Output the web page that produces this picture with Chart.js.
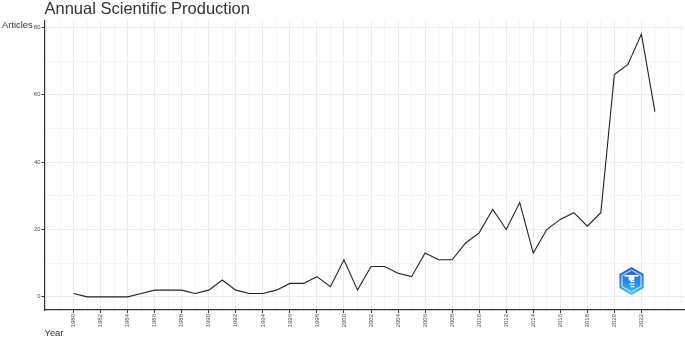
<!DOCTYPE html>
<html>
<head>
<meta charset="utf-8">
<script src="https://cdn.jsdelivr.net/npm/chart.js@4.4.0/dist/chart.umd.min.js"></script>
<style>
  html, body { margin: 0; padding: 0; background: #ffffff; }
  #wrap { width: 685px; height: 338px; position: relative; }
</style>
</head>
<body>
<div id="wrap"><canvas id="c" width="685" height="338"></canvas></div>
<script>
const years = [1980,1981,1982,1983,1984,1985,1986,1987,1988,1989,1990,1991,1992,1993,1994,1995,1996,1997,1998,1999,2000,2001,2002,2003,2004,2005,2006,2007,2008,2009,2010,2011,2012,2013,2014,2015,2016,2017,2018,2019,2020,2021,2022,2023];
const articles = [1,0,0,0,0,1,2,2,2,1,2,5,2,1,1,2,4,4,6,3,11,2,9,9,7,6,13,11,11,16,19,26,20,28,13,20,23,25,21,25,66,69,78,55];
const xTickLabels = [1980,1982,1984,1986,1988,1990,1992,1994,1996,1998,2000,2002,2004,2006,2008,2010,2012,2014,2016,2018,2020,2022];
const yTickLabels = [0,20,40,60,80];
const yMinorTicks = [10,30,50,70];
const titleText = "Annual Scientific Production";
const xTitle = "Year";
const yTitle = "Articles";

const xMin = years[0] - 0.05 * (years[years.length-1] - years[0]);
const xMax = years[years.length-1] + 0.05 * (years[years.length-1] - years[0]);
const yMax0 = Math.max(...articles), yMin0 = Math.min(...articles);
const yMin = yMin0 - 0.05 * (yMax0 - yMin0);
const yMax = yMax0 + 0.05 * (yMax0 - yMin0);

const FONT = "'Liberation Sans', Arial, sans-serif";

const textPlugin = {
  id: 'texts',
  afterDraw(chart) {
    const ctx = chart.ctx, a = chart.chartArea;
    ctx.save();
    ctx.fillStyle = '#333333';
    ctx.textBaseline = 'alphabetic';
    ctx.textAlign = 'left';
    ctx.font = "16.5px " + FONT;
    ctx.fillText(titleText, a.left, 14);
    ctx.font = "9.4px " + FONT;
    ctx.fillText(yTitle, 2, 28);
    ctx.fillText(xTitle, a.left, 336);
    ctx.restore();
  }
};

const logoPlugin = {
  id: 'logo',
  afterDatasetsDraw(chart) {
    const ctx = chart.ctx, a = chart.chartArea;
    const cx = a.right - 52.5, cy = a.bottom - 29, r = 14;
    const hex = (rr) => {
      ctx.beginPath();
      for (let i = 0; i < 6; i++) {
        const ang = Math.PI / 180 * (60 * i - 90);
        const px = cx + rr * Math.cos(ang), py = cy + rr * Math.sin(ang);
        if (i === 0) ctx.moveTo(px, py); else ctx.lineTo(px, py);
      }
      ctx.closePath();
    };
    ctx.save();
    const g = ctx.createLinearGradient(0, cy - r, 0, cy + r);
    g.addColorStop(0, '#2f5ec6');
    g.addColorStop(0.5, '#2b86e0');
    g.addColorStop(1, '#34c6f7');
    hex(r); ctx.fillStyle = g; ctx.fill();
    hex(r - 3); ctx.strokeStyle = 'rgba(255,255,255,0.85)'; ctx.lineWidth = 1; ctx.stroke();
    ctx.fillStyle = '#ffffff';
    ctx.fillRect(cx - 7, cy - 6, 14, 1.5);
    ctx.beginPath(); ctx.arc(cx, cy - 3, 3, 0, Math.PI * 2); ctx.fill();
    ctx.fillRect(cx - 1, cy, 4, 1.2);
    ctx.fillRect(cx - 2, cy + 2.5, 5, 1.2);
    ctx.fillRect(cx - 1, cy + 5, 4, 1.2);
    ctx.restore();
  }
};

new Chart(document.getElementById('c'), {
  type: 'line',
  data: {
    datasets: [{
      data: years.map((y, i) => ({ x: y, y: articles[i] })),
      borderColor: '#222222',
      borderWidth: 1.1,
      pointRadius: 0,
      fill: false,
      tension: 0
    }]
  },
  options: {
    responsive: false,
    devicePixelRatio: 1,
    animation: false,
    layout: { padding: { top: 21, right: 1, left: 0, bottom: 0 } },
    plugins: { legend: { display: false }, tooltip: { enabled: false }, title: { display: false } },
    scales: {
      x: {
        type: 'linear',
        min: xMin, max: xMax,
        afterBuildTicks(scale) {
          const t = [];
          for (let v = Math.ceil(xMin); v <= Math.floor(xMax); v++) t.push({ value: v });
          scale.ticks = t;
        },
        afterFit(scale) { scale.height = 28; scale.paddingLeft = 0; scale.paddingRight = 0; },
        border: { display: true, color: '#333333', width: 1.2 },
        grid: {
          color: (c) => (c.tick && xTickLabels.includes(c.tick.value)) ? '#ebebeb' : '#f4f4f4',
          tickColor: (c) => (c.tick && xTickLabels.includes(c.tick.value)) ? '#333333' : 'rgba(0,0,0,0)',
          tickLength: 3,
          lineWidth: 1
        },
        ticks: {
          autoSkip: false,
          maxRotation: 90, minRotation: 90,
          padding: 1,
          color: '#4d4d4d',
          font: { family: FONT, size: 6 },
          callback: (v) => xTickLabels.includes(v) ? String(v) : ''
        }
      },
      y: {
        type: 'linear',
        min: yMin, max: yMax,
        afterBuildTicks(scale) {
          scale.ticks = yTickLabels.concat(yMinorTicks).sort((a, b) => a - b).map(v => ({ value: v }));
        },
        afterFit(scale) { scale.width = 44.5; scale.paddingTop = 0; scale.paddingBottom = 0; },
        border: { display: true, color: '#333333', width: 1.2 },
        grid: {
          color: (c) => (c.tick && yTickLabels.includes(c.tick.value)) ? '#ebebeb' : '#f4f4f4',
          tickColor: (c) => (c.tick && yTickLabels.includes(c.tick.value)) ? '#333333' : 'rgba(0,0,0,0)',
          tickLength: 3,
          lineWidth: 1
        },
        ticks: {
          padding: 1,
          color: '#4d4d4d',
          font: { family: FONT, size: 5.8 },
          callback: (v) => yTickLabels.includes(v) ? String(v) : ''
        }
      }
    }
  },
  plugins: [textPlugin, logoPlugin]
});
</script>
</body>
</html>
